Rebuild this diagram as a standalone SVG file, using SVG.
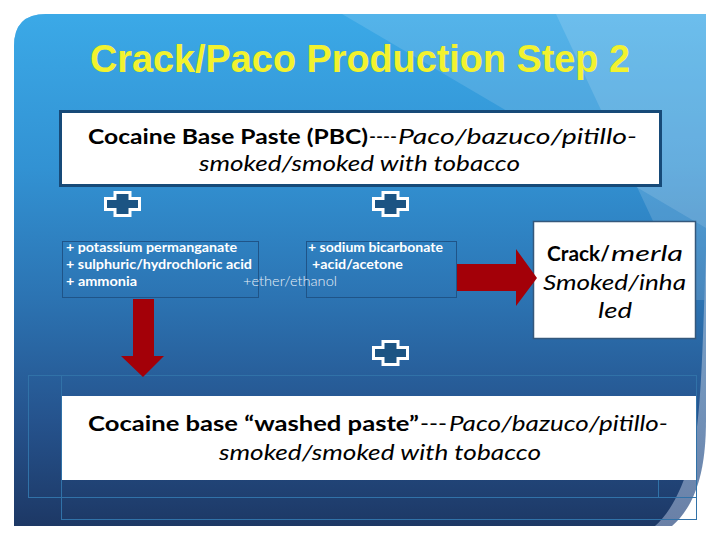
<svg xmlns="http://www.w3.org/2000/svg" width="720" height="540" viewBox="0 0 720 540">
<defs>
<linearGradient id="bg" x1="0" y1="14" x2="0" y2="526" gradientUnits="userSpaceOnUse">
<stop offset="0" stop-color="#3ba9e7"/>
<stop offset="0.3" stop-color="#3292d3"/>
<stop offset="0.55" stop-color="#2c74b3"/>
<stop offset="0.8" stop-color="#25528c"/>
<stop offset="1" stop-color="#1d3865"/>
</linearGradient>
<linearGradient id="band" x1="0" y1="14" x2="0" y2="526" gradientUnits="userSpaceOnUse">
<stop offset="0" stop-color="#8cc6ee"/>
<stop offset="0.5" stop-color="#7aa6cf"/>
<stop offset="1" stop-color="#6a80a6"/>
</linearGradient>
<clipPath id="slide">
<path d="M14,46 Q14,14 46,14 L706,14 L706,250 C703,330 702,420 692,455 C682,492 668,515 655,526 L14,526 Z"/>
</clipPath>
<style>
.body{font-family:Lato,"Open Sans","DejaVu Sans",sans-serif;}
.b{font-weight:bold;}
.i{font-style:italic;}
.box{fill:#ffffff;}
.plus{fill:#1c5483;stroke:#ffffff;stroke-width:3;}
.tline{fill:none;stroke:#3172a8;stroke-width:1;}
.ing{fill:none;stroke:#1f5488;stroke-width:1;}
.ingt{fill:#ffffff;font-size:13px;font-weight:bold;}
.arrow{fill:#a30008;}
</style>
</defs>
<g id="background">
<rect x="0" y="0" width="720" height="540" fill="#ffffff"/>
<path d="M14,46 Q14,14 46,14 L706,14 L706,420 C706,470 696,505 672,526 L14,526 Z" fill="url(#band)"/>
<path d="M14,46 Q14,14 46,14 L706,14 L706,250 C703,330 702,420 692,455 C682,492 668,515 655,526 L14,526 Z" fill="url(#bg)"/>
<g clip-path="url(#slide)">
<polygon points="342,14 706,14 706,228" fill="#ffffff" opacity="0.13"/>
<polygon points="556,14 706,14 706,300 690,300" fill="#ffffff" opacity="0.14"/>
</g>
</g>
<text x="360" y="72" text-anchor="middle" font-family="'Liberation Sans',Arial,sans-serif" font-size="38" font-weight="bold" fill="#f2f22e" textLength="540" lengthAdjust="spacingAndGlyphs">Crack/Paco Production Step 2</text>
<g id="pbc">
<rect x="60.5" y="111.5" width="600" height="74" class="box" stroke="#174a78" stroke-width="3"/>
<text class="body b" x="88" y="144" font-size="21" textLength="280" lengthAdjust="spacingAndGlyphs">Cocaine Base Paste (PBC)</text>
<text class="body" x="369" y="144" font-size="21" textLength="28" lengthAdjust="spacingAndGlyphs">----</text>
<text class="body i" x="398" y="144" font-size="21" textLength="239" lengthAdjust="spacingAndGlyphs">Paco/bazuco/pitillo-</text>
<text class="body i" x="199" y="171" font-size="21" textLength="321" lengthAdjust="spacingAndGlyphs">smoked/smoked with tobacco</text>
</g>
<g id="plus1"><path class="plus" d="M115,192.5 h15 v6 h9.5 v11 h-9.5 v6 h-15 v-6 h-9.5 v-11 h9.5 Z"/></g>
<g id="plus2"><path class="plus" d="M383,192.5 h15 v6 h9.5 v11 h-9.5 v6 h-15 v-6 h-9.5 v-11 h9.5 Z"/></g>
<g id="plus3"><path class="plus" d="M383,341.5 h15 v6 h9.5 v11 h-9.5 v6 h-15 v-6 h-9.5 v-11 h9.5 Z"/></g>
<g id="reagents1">
<rect x="62.5" y="241.5" width="196" height="56" class="ing"/>
<text class="body ingt" x="66" y="252" textLength="171" lengthAdjust="spacingAndGlyphs">+ potassium permanganate</text>
<text class="body ingt" x="66" y="269" textLength="186" lengthAdjust="spacingAndGlyphs">+ sulphuric/hydrochloric acid</text>
<text class="body ingt" x="66" y="286" textLength="71" lengthAdjust="spacingAndGlyphs">+ ammonia</text>
</g>
<g id="reagents2">
<rect x="306.5" y="241.5" width="150" height="56" class="ing"/>
<text class="body ingt" x="308" y="252" textLength="135" lengthAdjust="spacingAndGlyphs">+ sodium bicarbonate</text>
<text class="body ingt" x="312" y="269" textLength="91" lengthAdjust="spacingAndGlyphs">+acid/acetone</text>
<text class="body" x="243" y="286" font-size="13" font-weight="300" fill="#e8f0f8" textLength="94" lengthAdjust="spacingAndGlyphs">+ether/ethanol</text>
</g>
<g id="crack">
<rect x="533.5" y="221.5" width="162" height="117" class="box" stroke="#34587c" stroke-width="1.5"/>
<text class="body b" x="547" y="261" font-size="21" textLength="63" lengthAdjust="spacingAndGlyphs">Crack/</text>
<text class="body i" x="611" y="261" font-size="21" textLength="72" lengthAdjust="spacingAndGlyphs">merla</text>
<text class="body i" x="543" y="290" font-size="21" textLength="143" lengthAdjust="spacingAndGlyphs">Smoked/inha</text>
<text class="body i" x="598" y="318" font-size="21" textLength="34" lengthAdjust="spacingAndGlyphs">led</text>
</g>
<g id="washed">
<rect x="28.5" y="375.5" width="668" height="122" class="tline"/>
<rect x="61.5" y="375.5" width="635" height="144" class="tline"/>
<line x1="658.5" y1="480" x2="658.5" y2="498" class="tline"/>
<rect x="62" y="396" width="634" height="84" class="box"/>
<text class="body b" x="88" y="431" font-size="21" textLength="331" lengthAdjust="spacingAndGlyphs">Cocaine base “washed paste”</text>
<text class="body" x="420" y="431" font-size="21" textLength="27" lengthAdjust="spacingAndGlyphs">---</text>
<text class="body i" x="449" y="431" font-size="21" textLength="219" lengthAdjust="spacingAndGlyphs">Paco/bazuco/pitillo-</text>
<text class="body i" x="219" y="460" font-size="21" textLength="322" lengthAdjust="spacingAndGlyphs">smoked/smoked with tobacco</text>
</g>
<g id="connectors">
<polygon class="arrow" points="133,299 154,299 154,356 164,356 143,377 121,356 133,356"/>
<polygon class="arrow" points="457,264 516,264 516,249 537,278 516,306 516,291 457,291"/>
</g>
</svg>
